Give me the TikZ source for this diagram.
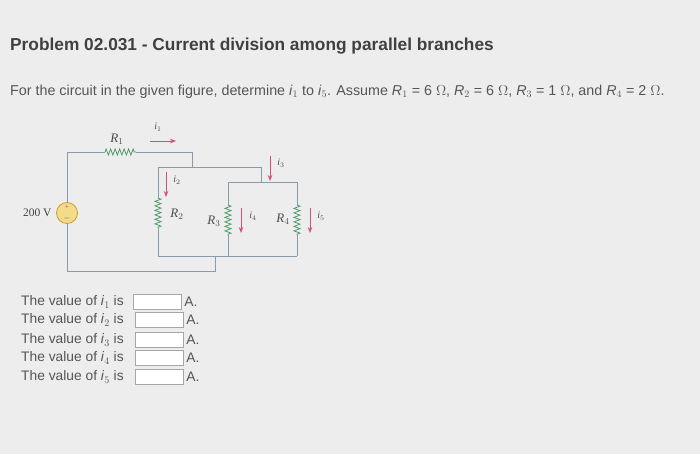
\documentclass[tikz,border=0pt]{standalone}
\usepackage{fontspec}
\setmainfont{Liberation Serif}
\newfontfamily\ui{Liberation Sans}
\usetikzlibrary{decorations.pathmorphing,arrows.meta}
\definecolor{wire}{HTML}{8A9BAE}
\definecolor{resc}{HTML}{4E9A6A}
\definecolor{arr}{HTML}{D0507A}
\definecolor{srcf}{HTML}{F2DC8A}
\definecolor{srcd}{HTML}{C8A030}
\definecolor{txt}{HTML}{555555}
\tikzset{
  w/.style={draw=wire,line width=0.9pt},
  res/.style={draw=resc,line width=0.8pt,decorate,decoration={zigzag,segment length=4.5pt,amplitude=3pt}},
  cur/.style={draw=arr,line width=0.9pt,-{Stealth[length=6pt,width=4.5pt]}},
  lab/.style={font=\fontsize{13}{15}\selectfont\itshape,text=black!70,inner sep=1pt},
  sl/.style={font=\fontsize{10}{11}\selectfont\itshape,text=black!70,inner sep=1pt},
  q/.style={font=\ui\fontsize{13.8}{15}\selectfont,text=txt,anchor=west,inner sep=0pt},
  ansbox/.style={draw=black!35,fill=white,minimum width=48pt,minimum height=15pt,inner sep=0pt},
}
\begin{document}
\begin{tikzpicture}[x=1pt,y=-1pt]
\fill[black!7] (0,0) rectangle (700,454);
\useasboundingbox (0,0) rectangle (700,454);
\node[anchor=west,inner sep=0pt,font=\ui\bfseries\fontsize{17.3}{19}\selectfont,text=black!75] (title) at (10,46) {Problem 02.031 - Current division among parallel branches};
\node[anchor=west,inner sep=0pt,font=\ui\fontsize{14.3}{16}\selectfont,text=txt] (stmt) at (10,92) {For the circuit in the given figure, determine \textit{i}$_1$ to \textit{i}$_5$. Assume \textit{R}$_1$ = 6 $\Omega$, \textit{R}$_2$ = 6 $\Omega$, \textit{R}$_3$ = 1 $\Omega$, and \textit{R}$_4$ = 2 $\Omega$.};
% coordinates
\coordinate (tl) at (67,152);
\coordinate (r1a) at (105,152);
\coordinate (r1b) at (136,152);
\coordinate (tr) at (192,152);
\coordinate (j1) at (192,167);
\coordinate (b1l) at (158,167);
\coordinate (b1r) at (261,167);
\coordinate (j2) at (261,182);
\coordinate (b2l) at (228,182);
\coordinate (b2r) at (297,182);
\coordinate (r2a) at (158,198);
\coordinate (r2b) at (158,228);
\coordinate (r3a) at (228,205);
\coordinate (r3b) at (228,235);
\coordinate (r4a) at (297,205);
\coordinate (r4b) at (297,235);
\coordinate (bl) at (158,256);
\coordinate (bm) at (228,256);
\coordinate (br) at (297,256);
\coordinate (jb) at (215,256);
\coordinate (sb) at (215,271);
\coordinate (bll) at (67,271);
\node[circle,draw=srcd,fill=srcf,minimum size=21pt,inner sep=0pt,line width=0.8pt] (src) at (67,213) {};
\node[font=\footnotesize,text=arr] at (67,207.5) {+};
\node[font=\footnotesize,text=black!70] at (67,218.5) {$-$};
\node[anchor=east,font=\fontsize{11.5}{13}\selectfont,text=black!75] (sv) at (55,213) {200 V};
\draw[w] (src.north) -- (tl) -- (r1a);
\draw[res] (r1a) -- (r1b);
\draw[w] (r1b) -- (tr) -- (j1);
\draw[w] (b1l) -- (b1r) -- (j2);
\draw[w] (b2l) -- (b2r);
\draw[w] (b1l) -- (r2a); \draw[res] (r2a) -- (r2b); \draw[w] (r2b) -- (bl);
\draw[w] (b2l) -- (r3a); \draw[res] (r3a) -- (r3b); \draw[w] (r3b) -- (bm);
\draw[w] (b2r) -- (r4a); \draw[res] (r4a) -- (r4b); \draw[w] (r4b) -- (br);
\draw[w] (bl) -- (br);
\draw[w] (jb) -- (sb) -- (bll) -- (src.south);
% labels
\node[lab] (lr1) at (117,139) {R$_1$};
\node[lab] (lr2) at (177,214) {R$_2$};
\node[lab] (lr3) at (214,221) {R$_3$};
\node[lab] (lr4) at (283,219) {R$_4$};
\coordinate (a1s) at (150,141); \coordinate (a1e) at (176,141);
\draw[cur] (a1s) -- (a1e); \node[sl] at (158,127) {i$_1$};
\coordinate (a2s) at (166,172); \coordinate (a2e) at (166,197);
\draw[cur] (a2s) -- (a2e); \node[sl] at (177,180) {i$_2$};
\coordinate (a3s) at (270,156); \coordinate (a3e) at (270,181);
\draw[cur] (a3s) -- (a3e); \node[sl] at (281,163) {i$_3$};
\coordinate (a4s) at (241,208); \coordinate (a4e) at (241,233);
\draw[cur] (a4s) -- (a4e); \node[sl] at (253,216) {i$_4$};
\coordinate (a5s) at (310,208); \coordinate (a5e) at (310,233);
\draw[cur] (a5s) -- (a5e); \node[sl] at (321,216) {i$_5$};
% answers
\foreach \k/\y/\bx in {1/302/157,2/320/159,3/340/159,4/358/159,5/377/159}{
  \node[q] (q\k) at (21,\y) {The value of \textit{i}$_{\k}$ is};
  \node[ansbox] (b\k) at (\bx,\y) {};
  \node[q] (u\k) at ([xshift=3pt]b\k.east) {A.};
}
\end{tikzpicture}
\end{document}
